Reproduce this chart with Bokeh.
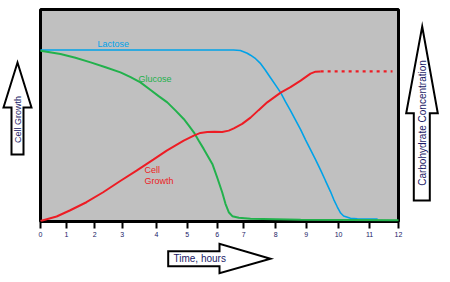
import math
from bokeh.plotting import figure
from bokeh.models import Range1d, Label, FixedTicker
from bokeh.embed import file_html
from bokeh.resources import INLINE

# ---- data (hours, relative concentration / growth 0-100) ----
lactose_t = [0, 6.47, 6.70, 6.93, 7.04, 7.21, 7.38, 7.54, 7.71, 7.88, 8.05, 8.21, 8.38, 8.55,
             8.72, 8.88, 9.05, 9.22, 9.39, 9.55, 9.72, 9.83, 9.95, 10.06, 10.16, 10.39, 10.62, 11.30]
lactose_y = [80.89, 80.89, 80.66, 79.39, 78.44, 76.79, 74.44, 71.37, 67.84, 64.31, 60.77, 56.53, 52.29, 47.82,
             43.34, 38.63, 33.92, 29.21, 24.26, 19.32, 14.13, 10.36, 6.83, 4.00, 2.59, 1.55, 1.27, 1.18]

glucose_t = [0, 0.67, 1.17, 1.68, 2.18, 2.68, 3.02, 3.35, 3.69, 3.96, 4.25, 4.53, 4.80, 4.96,
             5.14, 5.30, 5.47, 5.76, 5.92, 6.09, 6.20, 6.31, 6.43, 6.65, 7.04, 8.72, 12.0]
glucose_y = [80.56, 79.01, 77.26, 75.05, 72.79, 70.34, 68.08, 65.63, 62.05, 59.13, 56.20, 52.29, 48.38, 45.46,
             42.07, 38.16, 34.25, 27.18, 20.87, 13.80, 8.34, 4.38, 2.50, 1.74, 1.27, 0.80, 0.57]

growth_t = [0, 0.54, 0.98, 1.54, 2.10, 2.66, 3.22, 3.78, 4.23, 4.80, 5.14, 5.36, 5.59, 5.83,
            6.09, 6.31, 6.48, 6.76, 7.04, 7.31, 7.60, 8.05, 8.38, 8.72, 9.05, 9.22, 9.39]
growth_y = [0.24, 2.36, 5.18, 9.09, 13.80, 18.99, 24.03, 29.21, 33.45, 38.16, 40.52, 41.79, 42.26, 42.31,
            42.26, 42.87, 43.96, 46.03, 49.00, 52.53, 56.20, 60.77, 63.37, 66.43, 69.73, 70.67, 70.81]

growth_proj_t = [9.39, 11.80]
growth_proj_y = [70.81, 70.81]

tick_labels = ["0", "1", "2", "3", "4", "5", "6", "7", "8", "9", "10", "11", "12"]
tick_hours = [0, 0.87, 1.82, 2.74, 3.89, 4.92, 5.92, 6.81, 7.88, 8.91, 9.99, 11.03, 12.0]

BLUE = "#00a2e8"
GREEN = "#22b14c"
RED = "#ed1c24"
NAVY = "#1a1a66"
FONT = "Liberation Sans"

# ---- layout: the data box [0,12]x[0,100] sits at pixels x 40..398, y 9..221 ----
W, H = 450, 282
BX0, BX1, BY0, BY1 = 40, 398, 9, 221
XMIN, XMAX, YMIN, YMAX = 0, 12, 0, 100


def dx(px):
    return XMIN + (px - BX0) / (BX1 - BX0) * (XMAX - XMIN)


def dy(py):
    return YMIN + (BY1 - py) / (BY1 - BY0) * (YMAX - YMIN)


p = figure(width=W, height=H, output_backend="svg", toolbar_location=None,
           x_range=Range1d(dx(0), dx(W)), y_range=Range1d(dy(H), dy(0)),
           y_axis_location=None, min_border=0)
p.background_fill_color = "white"
p.border_fill_color = "white"
p.outline_line_color = None
p.xgrid.visible = False
p.ygrid.visible = False

# chart box
p.quad(left=[XMIN], right=[XMAX], bottom=[YMIN], top=[YMAX],
       fill_color="#c0c0c0", line_color="black", line_width=3)

ax = p.xaxis[0]
ax.fixed_location = YMIN
ax.ticker = FixedTicker(ticks=tick_hours)
ax.major_label_overrides = {t: lab for t, lab in zip(tick_hours, tick_labels)}
ax.axis_line_color = None
ax.major_tick_in = 0
ax.major_tick_out = 7
ax.major_tick_line_width = 2
ax.minor_tick_line_color = None
ax.major_label_text_font = FONT
ax.major_label_text_font_size = "7px"
ax.major_label_text_color = NAVY
ax.major_label_standoff = 3

p.line(lactose_t, lactose_y, line_color=BLUE, line_width=1.6)
p.line(glucose_t, glucose_y, line_color=GREEN, line_width=2)
p.line(growth_t, growth_y, line_color=RED, line_width=2)
p.line(growth_proj_t, growth_proj_y, line_color=RED, line_width=2.2, line_dash="3 4")


def lab(x, y, text, color, size="9px", **kw):
    p.add_layout(Label(x=x, y=y, text=text, text_color=color, text_font=FONT,
                       text_font_size=size, text_baseline="middle", **kw))


lab(dx(97), dy(43), "Lactose", BLUE)
lab(dx(138), dy(78), "Glucose", GREEN)
lab(dx(144), dy(169), "Cell", RED)
lab(dx(144), dy(180), "Growth", RED)


# ---- block arrows (outline given in pixels, converted to data space) ----
def arrow(pts):
    p.patch([dx(a) for a, b in pts], [dy(b) for a, b in pts],
            fill_color="white", line_color="black", line_width=2, line_join="miter")


arrow([(17, 62), (31, 107), (23, 107), (23, 154), (11, 154), (11, 107), (3, 107)])
arrow([(421.7, 26), (437.3, 112.7), (429.3, 112.7), (429.3, 200), (413.3, 200), (413.3, 112.7), (405.7, 112.7)])
arrow([(167.7, 250.7), (219, 250.7), (219, 243.3), (270, 258.3), (219, 272.7), (219, 265.7), (167.7, 265.7)])

lab(dx(17.5), dy(119), "Cell Growth", NAVY, angle=math.pi / 2, text_align="center")
lab(dx(421.5), dy(122.5), "Carbohydrate Concentration", NAVY, size="10px",
    angle=math.pi / 2, text_align="center")
lab(dx(173), dy(258), "Time, hours", NAVY, size="10px")

open("out.html", "w").write(file_html(p, INLINE))
